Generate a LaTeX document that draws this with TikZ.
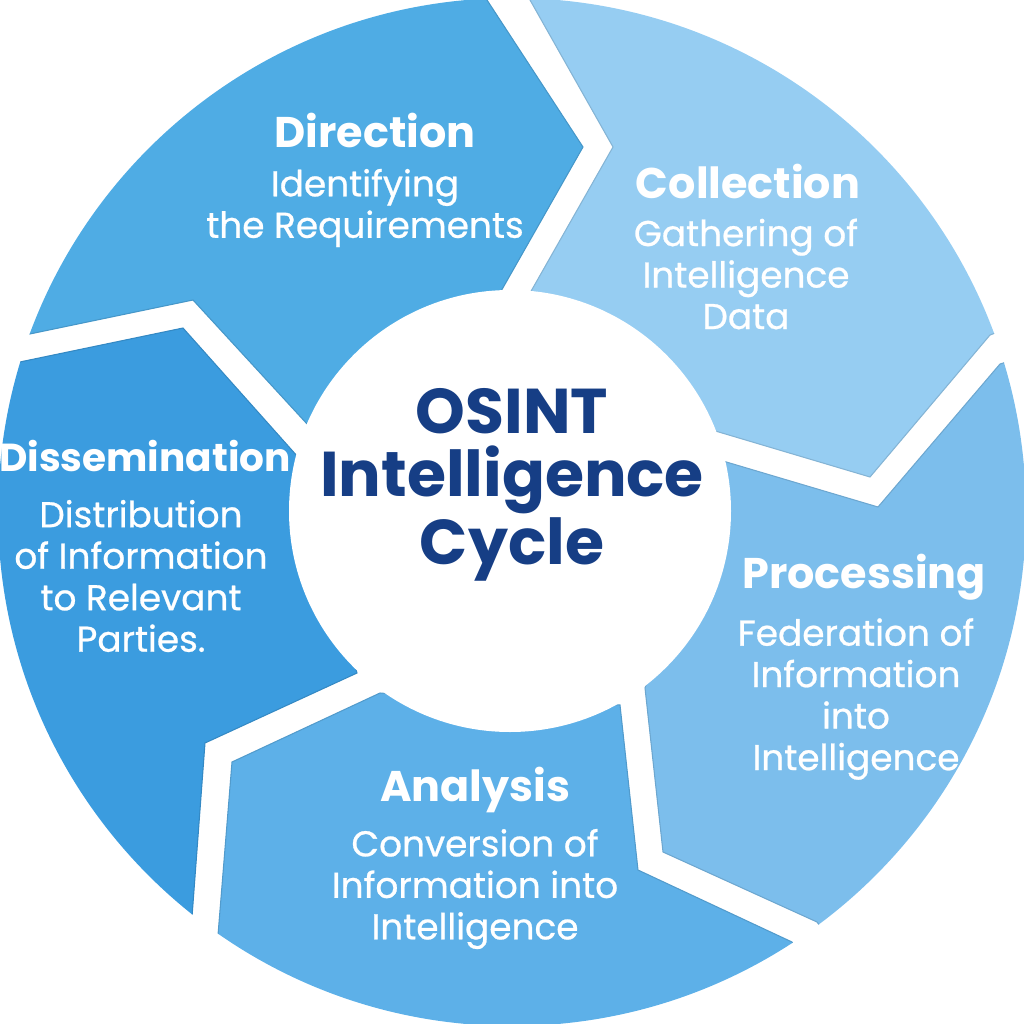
\documentclass[tikz,border=0pt]{standalone}
\usepackage{fontspec}
\setmainfont{Poppins}
\newfontfamily\osmedium{Poppins}[FakeBold=0.7]
\definecolor{osdir}{RGB}{79,172,228}
\definecolor{oscol}{RGB}{150,205,242}
\definecolor{ospro}{RGB}{124,190,236}
\definecolor{osana}{RGB}{93,176,232}
\definecolor{osdis}{RGB}{59,156,223}
\definecolor{osnavy}{RGB}{22,62,133}
\tikzset{
  osseg/.style={fill=#1, draw=#1!88!black, line width=.3pt, line join=miter},
  ostitle/.style={text=white, inner sep=0pt, font=\bfseries\fontsize{12.2}{14}\selectfont},
  osdesc/.style={text=white, align=center, inner sep=0pt, font=\osmedium\fontsize{10.2}{11.8}\selectfont},
  oscore/.style={text=osnavy, align=center, inner sep=0pt, font=\bfseries\fontsize{18}{17.9}\selectfont}
}

\begin{document}
\begin{tikzpicture}[x=0.01cm, y=-0.01cm]
  \useasboundingbox (0,0) rectangle (1024,1024);

  \begin{scope}
    \clip (512,512) circle (514);
    % Direction
    \fill[osseg=osdir] (308,425) -- (193,300) -- (25,335) -- (-146,273) -- (91,-47)
      -- (478,-187) -- (487,0) -- (583,147) -- (500,293) -- cycle;
    % Collection
    \fill[osseg=oscol] (530,0) -- (613,147) -- (530,293) -- (712,430) -- (870,477)
      -- (990,335) -- (1168,269) -- (923,-54) -- (536,-188) -- cycle;
    % Processing
    \fill[osseg=ospro] (723,461) -- (878,507) -- (1000,364) -- (1182,308) -- (1178,728)
      -- (929,1074) -- (817,922) -- (663,852) -- (645,688) -- cycle;
    % Analysis
    \fill[osseg=osana] (620,705) -- (638,870) -- (792,942) -- (894,1098) -- (500,1212)
      -- (112,1087) -- (218,935) -- (232,762) -- (380,693) -- cycle;
    % Dissemination
    \fill[osseg=osdis] (357,673) -- (205,743) -- (192,917) -- (78,1061) -- (-154,728)
      -- (-158,311) -- (15,363) -- (183,328) -- (298,457) -- cycle;
  \end{scope}

  \fill[white] (510,511) circle (221);

  \node[oscore] (core) at (512,485) {OSINT\\Intelligence\\Cycle};

  \node[ostitle] (dirT) at (375,130) {Direction};
  \node[osdesc] (dirD) at (365,208) {Identifying\\the Requirements};

  \node[ostitle] (colT) at (748,181) {Collection};
  \node[osdesc] (colD) at (746,274) {Gathering of\\Intelligence\\Data};

  \node[ostitle] (proT) at (864,577) {Processing};
  \node[osdesc] (proD) at (856,699) {Federation of\\Information\\into\\Intelligence};

  \node[ostitle] (anaT) at (475,790) {Analysis};
  \node[osdesc] (anaD) at (475,889) {Conversion of\\Information into\\Intelligence};

  \node[ostitle, font=\bfseries\fontsize{11.1}{14}\selectfont] (disT) at (145,456) {Dissemination};
  \node[osdesc] (disD) at (141,576) {Distribution\\of Information\\to Relevant\\Parties.};
\end{tikzpicture}
\end{document}
